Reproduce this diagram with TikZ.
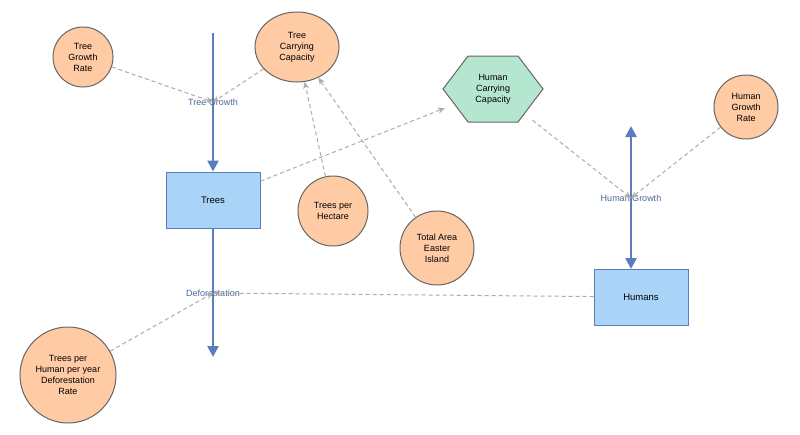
\documentclass[tikz,border=0pt]{standalone}
\usepackage{fontspec}
\setmainfont{Liberation Sans}
\usetikzlibrary{shapes.geometric,arrows.meta}
\definecolor{peach}{HTML}{FFCBA4}
\definecolor{sky}{HTML}{AAD4F7}
\definecolor{mint}{HTML}{B5E6CF}
\definecolor{flowc}{HTML}{5B7DBF}
\definecolor{lbl}{HTML}{4A6A9A}
\begin{document}
\begin{tikzpicture}[x=1pt,y=-1pt,
 var/.style={ellipse,draw=gray!80!black,line width=1pt,fill=peach,align=center,font=\fontsize{9}{11}\selectfont,inner sep=0pt},
 stock/.style={rectangle,draw=flowc,line width=1pt,fill=sky,minimum width=94pt,minimum height=56pt,font=\fontsize{9.5}{11}\selectfont},
 tip/.style={Triangle[length=11pt,width=11pt]},
 flow/.style={draw=flowc,line width=2.5pt,-{Triangle[length=11pt,width=11pt]}},
 flabel/.style={text=lbl,font=\fontsize{9}{10}\selectfont,inner sep=1pt},
 link/.style={draw=gray!65,line width=1pt,dash pattern=on 4pt off 3pt,-{Stealth[length=7pt,width=6pt]}}]
\useasboundingbox[fill=white] (0,0) rectangle (800,434);
\node[var,minimum width=60pt,minimum height=60pt] (tgr) at (83,57) {Tree\\Growth\\Rate};
\node[var,minimum width=84pt,minimum height=70pt] (tcc) at (297,47) {Tree\\Carrying\\Capacity};
\draw[gray!80!black,line width=1pt,fill=mint] (443,89) -- (468,56) -- (518,56) -- (543,89) -- (518,122) -- (468,122) -- cycle;
\node[minimum width=96pt,minimum height=62pt,align=center,inner sep=0pt,font=\fontsize{9}{11}\selectfont] (hcc) at (493,89) {Human\\Carrying\\Capacity};
\node[var,minimum width=64pt,minimum height=64pt] (hgr) at (746,107) {Human\\Growth\\Rate};
\node[stock] (trees) at (213,200) {Trees};
\node[var,minimum width=70pt,minimum height=70pt] (tph) at (333,211) {Trees per\\Hectare};
\node[var,minimum width=74pt,minimum height=74pt] (area) at (437,248) {Total Area\\Easter\\Island};
\node[stock] (humans) at (641,297) {Humans};
\node[var,minimum width=96pt,minimum height=96pt] (rate) at (68,375) {Trees per\\Human per year\\Deforestation\\Rate};
\coordinate (tgs) at (213,33);
\coordinate (dfe) at (213,357);
\coordinate (hgs) at (631,126);
\coordinate (hge) at (631,269);
\path[flow] (tgs) -- (trees.north);
\path[flow] (trees.south) -- (dfe);
\path[flow,{Triangle[length=11pt,width=11pt]}-{Triangle[length=11pt,width=11pt]}] (hgs) -- (hge);
\node[flabel] (tg) at (213,102) {Tree Growth};
\node[flabel] (df) at (213,293) {Deforestation};
\node[flabel] (hg) at (631,198) {Human Growth};
\path[link] (tgr) -- (tg.center);
\path[link] (tcc) -- (tg.center);
\path[link] (tph) -- (tcc);
\path[link] (area) -- (tcc);
\path[link] (trees) -- (hcc);
\path[link] (hcc) -- (hg.center);
\path[link] (hgr) -- (hg.center);
\path[link] (humans) -- (df.center);
\path[link] (rate) -- (df.center);
\end{tikzpicture}
\end{document}
